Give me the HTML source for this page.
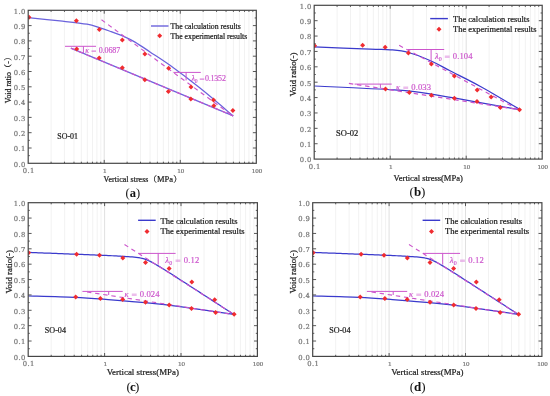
<!DOCTYPE html>
<html><head><meta charset="utf-8"><style>
html,body{margin:0;padding:0;background:#fff;width:550px;height:396px;overflow:hidden}
svg{display:block} .lb{stroke:#1c1c1c;stroke-width:0.22px} .mg{stroke:#cc55cc;stroke-width:0.18px}
</style></head><body>
<svg width="550" height="396" viewBox="0 0 550 396" font-family="'Liberation Serif', 'Noto Serif CJK SC', serif">
<rect width="550" height="396" fill="#fff"/>
<line x1="51.09" y1="10.3" x2="51.09" y2="163.3" stroke="#f1f1f1" stroke-width="0.9"/>
<line x1="64.48" y1="10.3" x2="64.48" y2="163.3" stroke="#f1f1f1" stroke-width="0.9"/>
<line x1="73.98" y1="10.3" x2="73.98" y2="163.3" stroke="#f1f1f1" stroke-width="0.9"/>
<line x1="81.35" y1="10.3" x2="81.35" y2="163.3" stroke="#f1f1f1" stroke-width="0.9"/>
<line x1="87.37" y1="10.3" x2="87.37" y2="163.3" stroke="#f1f1f1" stroke-width="0.9"/>
<line x1="92.46" y1="10.3" x2="92.46" y2="163.3" stroke="#f1f1f1" stroke-width="0.9"/>
<line x1="96.86" y1="10.3" x2="96.86" y2="163.3" stroke="#f1f1f1" stroke-width="0.9"/>
<line x1="100.75" y1="10.3" x2="100.75" y2="163.3" stroke="#f1f1f1" stroke-width="0.9"/>
<line x1="104.23" y1="10.3" x2="104.23" y2="163.3" stroke="#dcdcdc" stroke-width="0.9"/>
<line x1="127.12" y1="10.3" x2="127.12" y2="163.3" stroke="#f1f1f1" stroke-width="0.9"/>
<line x1="140.51" y1="10.3" x2="140.51" y2="163.3" stroke="#f1f1f1" stroke-width="0.9"/>
<line x1="150.01" y1="10.3" x2="150.01" y2="163.3" stroke="#f1f1f1" stroke-width="0.9"/>
<line x1="157.38" y1="10.3" x2="157.38" y2="163.3" stroke="#f1f1f1" stroke-width="0.9"/>
<line x1="163.4" y1="10.3" x2="163.4" y2="163.3" stroke="#f1f1f1" stroke-width="0.9"/>
<line x1="168.49" y1="10.3" x2="168.49" y2="163.3" stroke="#f1f1f1" stroke-width="0.9"/>
<line x1="172.9" y1="10.3" x2="172.9" y2="163.3" stroke="#f1f1f1" stroke-width="0.9"/>
<line x1="176.79" y1="10.3" x2="176.79" y2="163.3" stroke="#f1f1f1" stroke-width="0.9"/>
<line x1="180.27" y1="10.3" x2="180.27" y2="163.3" stroke="#dcdcdc" stroke-width="0.9"/>
<line x1="203.15" y1="10.3" x2="203.15" y2="163.3" stroke="#f1f1f1" stroke-width="0.9"/>
<line x1="216.54" y1="10.3" x2="216.54" y2="163.3" stroke="#f1f1f1" stroke-width="0.9"/>
<line x1="226.04" y1="10.3" x2="226.04" y2="163.3" stroke="#f1f1f1" stroke-width="0.9"/>
<line x1="233.41" y1="10.3" x2="233.41" y2="163.3" stroke="#f1f1f1" stroke-width="0.9"/>
<line x1="239.43" y1="10.3" x2="239.43" y2="163.3" stroke="#f1f1f1" stroke-width="0.9"/>
<line x1="244.52" y1="10.3" x2="244.52" y2="163.3" stroke="#f1f1f1" stroke-width="0.9"/>
<line x1="248.93" y1="10.3" x2="248.93" y2="163.3" stroke="#f1f1f1" stroke-width="0.9"/>
<line x1="252.82" y1="10.3" x2="252.82" y2="163.3" stroke="#f1f1f1" stroke-width="0.9"/>
<clipPath id="c1"><rect x="28.2" y="10.3" width="228.1" height="153"/></clipPath>
<g clip-path="url(#c1)">
<path d="M28.2 17.6C33.5 18.15 50.2 19.8 60 20.9C69.8 22 80.45 23.07 87 24.2C93.55 25.33 95.47 26.52 99.3 27.7C103.13 28.88 105.95 29.8 110 31.25C114.05 32.7 119.43 34.59 123.6 36.4C127.77 38.21 130.6 39.52 135 42.1C139.4 44.68 144.17 48.03 150 51.9C155.83 55.77 161.67 59.27 170 65.3C178.33 71.33 189.47 79.67 200 88.1C210.53 96.53 227.67 111.27 233.2 115.9" fill="none" stroke="#6a62dc" stroke-width="1.25" stroke-linejoin="round"/>
<path d="M70.9 48.2L233.2 115.9" fill="none" stroke="#6a62dc" stroke-width="1.25" stroke-linejoin="round"/>
<path d="M101.5 19.8L232 115.4" fill="none" stroke="#cc55cc" stroke-width="1.15" stroke-linejoin="round" stroke-dasharray="4.4 3.8"/>
<path d="M70.9 48.2L233.2 115.9" fill="none" stroke="#cc55cc" stroke-width="1.15" stroke-linejoin="round" stroke-dasharray="4.4 3.8"/>
<path d="M29 14.8L31.5 17.3L29 19.8L26.5 17.3Z" fill="#f02c30"/>
<path d="M76.4 18.2L78.9 20.7L76.4 23.2L73.9 20.7Z" fill="#f02c30"/>
<path d="M99.3 27L101.8 29.5L99.3 32L96.8 29.5Z" fill="#f02c30"/>
<path d="M122.3 37.6L124.8 40.1L122.3 42.6L119.8 40.1Z" fill="#f02c30"/>
<path d="M144.9 51.4L147.4 53.9L144.9 56.4L142.4 53.9Z" fill="#f02c30"/>
<path d="M168.6 65.7L171.1 68.2L168.6 70.7L166.1 68.2Z" fill="#f02c30"/>
<path d="M191 84.6L193.5 87.1L191 89.6L188.5 87.1Z" fill="#f02c30"/>
<path d="M213.5 97.5L216 100L213.5 102.5L211 100Z" fill="#f02c30"/>
<path d="M232.9 108L235.4 110.5L232.9 113L230.4 110.5Z" fill="#f02c30"/>
<path d="M76.7 46.6L79.2 49.1L76.7 51.6L74.2 49.1Z" fill="#f02c30"/>
<path d="M99.2 55.5L101.7 58L99.2 60.5L96.7 58Z" fill="#f02c30"/>
<path d="M122.3 65.3L124.8 67.8L122.3 70.3L119.8 67.8Z" fill="#f02c30"/>
<path d="M144.8 77.3L147.3 79.8L144.8 82.3L142.3 79.8Z" fill="#f02c30"/>
<path d="M168.4 89L170.9 91.5L168.4 94L165.9 91.5Z" fill="#f02c30"/>
<path d="M190.8 96.5L193.3 99L190.8 101.5L188.3 99Z" fill="#f02c30"/>
<path d="M213.8 103.3L216.3 105.8L213.8 108.3L211.3 105.8Z" fill="#f02c30"/>
</g>
<path d="M51.09 163.3v-1.6M51.09 10.3v1.6M64.48 163.3v-1.6M64.48 10.3v1.6M73.98 163.3v-1.6M73.98 10.3v1.6M81.35 163.3v-1.6M81.35 10.3v1.6M87.37 163.3v-1.6M87.37 10.3v1.6M92.46 163.3v-1.6M92.46 10.3v1.6M96.86 163.3v-1.6M96.86 10.3v1.6M100.75 163.3v-1.6M100.75 10.3v1.6M104.23 163.3v-3.4M104.23 10.3v3.4M127.12 163.3v-1.6M127.12 10.3v1.6M140.51 163.3v-1.6M140.51 10.3v1.6M150.01 163.3v-1.6M150.01 10.3v1.6M157.38 163.3v-1.6M157.38 10.3v1.6M163.4 163.3v-1.6M163.4 10.3v1.6M168.49 163.3v-1.6M168.49 10.3v1.6M172.9 163.3v-1.6M172.9 10.3v1.6M176.79 163.3v-1.6M176.79 10.3v1.6M180.27 163.3v-3.4M180.27 10.3v3.4M203.15 163.3v-1.6M203.15 10.3v1.6M216.54 163.3v-1.6M216.54 10.3v1.6M226.04 163.3v-1.6M226.04 10.3v1.6M233.41 163.3v-1.6M233.41 10.3v1.6M239.43 163.3v-1.6M239.43 10.3v1.6M244.52 163.3v-1.6M244.52 10.3v1.6M248.93 163.3v-1.6M248.93 10.3v1.6M252.82 163.3v-1.6M252.82 10.3v1.6M28.2 155.65h1.6M256.3 155.65h-1.6M28.2 148h3.4M256.3 148h-3.4M28.2 140.35h1.6M256.3 140.35h-1.6M28.2 132.7h3.4M256.3 132.7h-3.4M28.2 125.05h1.6M256.3 125.05h-1.6M28.2 117.4h3.4M256.3 117.4h-3.4M28.2 109.75h1.6M256.3 109.75h-1.6M28.2 102.1h3.4M256.3 102.1h-3.4M28.2 94.45h1.6M256.3 94.45h-1.6M28.2 86.8h3.4M256.3 86.8h-3.4M28.2 79.15h1.6M256.3 79.15h-1.6M28.2 71.5h3.4M256.3 71.5h-3.4M28.2 63.85h1.6M256.3 63.85h-1.6M28.2 56.2h3.4M256.3 56.2h-3.4M28.2 48.55h1.6M256.3 48.55h-1.6M28.2 40.9h3.4M256.3 40.9h-3.4M28.2 33.25h1.6M256.3 33.25h-1.6M28.2 25.6h3.4M256.3 25.6h-3.4M28.2 17.95h1.6M256.3 17.95h-1.6" stroke="#464646" stroke-width="0.9" fill="none"/>
<rect x="28.2" y="10.3" width="228.1" height="153" fill="none" stroke="#464646" stroke-width="1.2"/>
<text x="25.7" y="166.6" text-anchor="end" font-family="DejaVu Serif, serif" font-size="6.8" fill="#787878" stroke="#787878" stroke-width="0.22" letter-spacing="0.35">0.0</text>
<text x="25.7" y="151.3" text-anchor="end" font-family="DejaVu Serif, serif" font-size="6.8" fill="#787878" stroke="#787878" stroke-width="0.22" letter-spacing="0.35">0.1</text>
<text x="25.7" y="136" text-anchor="end" font-family="DejaVu Serif, serif" font-size="6.8" fill="#787878" stroke="#787878" stroke-width="0.22" letter-spacing="0.35">0.2</text>
<text x="25.7" y="120.7" text-anchor="end" font-family="DejaVu Serif, serif" font-size="6.8" fill="#787878" stroke="#787878" stroke-width="0.22" letter-spacing="0.35">0.3</text>
<text x="25.7" y="105.4" text-anchor="end" font-family="DejaVu Serif, serif" font-size="6.8" fill="#787878" stroke="#787878" stroke-width="0.22" letter-spacing="0.35">0.4</text>
<text x="25.7" y="90.1" text-anchor="end" font-family="DejaVu Serif, serif" font-size="6.8" fill="#787878" stroke="#787878" stroke-width="0.22" letter-spacing="0.35">0.5</text>
<text x="25.7" y="74.8" text-anchor="end" font-family="DejaVu Serif, serif" font-size="6.8" fill="#787878" stroke="#787878" stroke-width="0.22" letter-spacing="0.35">0.6</text>
<text x="25.7" y="59.5" text-anchor="end" font-family="DejaVu Serif, serif" font-size="6.8" fill="#787878" stroke="#787878" stroke-width="0.22" letter-spacing="0.35">0.7</text>
<text x="25.7" y="44.2" text-anchor="end" font-family="DejaVu Serif, serif" font-size="6.8" fill="#787878" stroke="#787878" stroke-width="0.22" letter-spacing="0.35">0.8</text>
<text x="25.7" y="28.9" text-anchor="end" font-family="DejaVu Serif, serif" font-size="6.8" fill="#787878" stroke="#787878" stroke-width="0.22" letter-spacing="0.35">0.9</text>
<text x="25.7" y="13.6" text-anchor="end" font-family="DejaVu Serif, serif" font-size="6.8" fill="#787878" stroke="#787878" stroke-width="0.22" letter-spacing="0.35">1.0</text>
<text x="28.7" y="173.3" text-anchor="middle" font-family="DejaVu Serif, serif" font-size="6.8" fill="#787878" stroke="#787878" stroke-width="0.22" letter-spacing="0.35">0.1</text>
<text x="104.83" y="172.9" text-anchor="middle" font-size="7" fill="#787878" stroke="#787878" stroke-width="0.22">1</text>
<text x="180.87" y="172.9" text-anchor="middle" font-size="7" fill="#787878" stroke="#787878" stroke-width="0.22">10</text>
<text x="256.9" y="172.9" text-anchor="middle" font-size="7" fill="#787878" stroke="#787878" stroke-width="0.22">100</text>
<path d="M65 46.3H96M83.4 46.3V53.4" stroke="#cc55cc" stroke-width="1" fill="none"/>
<text transform="translate(85.2,52.8) scale(1,0.9)" font-size="8" fill="#cc55cc" class="mg" letter-spacing="-0.1"><tspan font-style="italic">κ</tspan> <tspan font-family="DejaVu Serif, serif" font-size="7.20" stroke="none" fill-opacity="0.75">=</tspan> 0.0687</text>
<path d="M173.4 72.4H200.8M186.1 72.4V80.4" stroke="#cc55cc" stroke-width="1" fill="none"/>
<text transform="translate(191.4,81) scale(1,0.9)" font-size="8" fill="#cc55cc" class="mg" letter-spacing="-0.2" xml:space="preserve"><tspan font-style="italic">λ</tspan><tspan font-size="5.6" dy="1.8">0</tspan><tspan dy="-1.8"> </tspan><tspan font-family="DejaVu Serif, serif" font-size="7.20" stroke="none" fill-opacity="0.75">=</tspan>0.1352</text>
<line x1="151" y1="26" x2="168.5" y2="26" stroke="#6a62dc" stroke-width="1.4"/>
<path d="M159.7 33.3L162.2 35.8L159.7 38.3L157.2 35.8Z" fill="#f02c30"/>
<text x="170.6" y="28.9" font-size="7.75" fill="#1c1c1c" class="lb">The calculation results</text>
<text x="170.6" y="38.5" font-size="7.75" fill="#1c1c1c" class="lb">The experimental results</text>
<text x="57.3" y="138.8" font-size="7.9" fill="#1c1c1c" class="lb">SO-01</text>
<text x="103.6" y="181.9" font-size="7.9" fill="#1c1c1c" class="lb" letter-spacing="0.05">Vertical stress<tspan font-size="8.5">（MPa）</tspan></text>
<text transform="translate(10.8,103.3) rotate(-90)" font-size="7.9" fill="#1c1c1c" class="lb">Void ratio<tspan letter-spacing="0.4">（-）</tspan></text>
<text x="132.8" y="196.9" text-anchor="middle" font-size="12.5" fill="#111">(<tspan font-weight="bold">a</tspan>)</text>
<line x1="337.08" y1="5.3" x2="337.08" y2="159.1" stroke="#f1f1f1" stroke-width="0.9"/>
<line x1="350.46" y1="5.3" x2="350.46" y2="159.1" stroke="#f1f1f1" stroke-width="0.9"/>
<line x1="359.96" y1="5.3" x2="359.96" y2="159.1" stroke="#f1f1f1" stroke-width="0.9"/>
<line x1="367.32" y1="5.3" x2="367.32" y2="159.1" stroke="#f1f1f1" stroke-width="0.9"/>
<line x1="373.34" y1="5.3" x2="373.34" y2="159.1" stroke="#f1f1f1" stroke-width="0.9"/>
<line x1="378.43" y1="5.3" x2="378.43" y2="159.1" stroke="#f1f1f1" stroke-width="0.9"/>
<line x1="382.83" y1="5.3" x2="382.83" y2="159.1" stroke="#f1f1f1" stroke-width="0.9"/>
<line x1="386.72" y1="5.3" x2="386.72" y2="159.1" stroke="#f1f1f1" stroke-width="0.9"/>
<line x1="390.2" y1="5.3" x2="390.2" y2="159.1" stroke="#dcdcdc" stroke-width="0.9"/>
<line x1="413.08" y1="5.3" x2="413.08" y2="159.1" stroke="#f1f1f1" stroke-width="0.9"/>
<line x1="426.46" y1="5.3" x2="426.46" y2="159.1" stroke="#f1f1f1" stroke-width="0.9"/>
<line x1="435.96" y1="5.3" x2="435.96" y2="159.1" stroke="#f1f1f1" stroke-width="0.9"/>
<line x1="443.32" y1="5.3" x2="443.32" y2="159.1" stroke="#f1f1f1" stroke-width="0.9"/>
<line x1="449.34" y1="5.3" x2="449.34" y2="159.1" stroke="#f1f1f1" stroke-width="0.9"/>
<line x1="454.43" y1="5.3" x2="454.43" y2="159.1" stroke="#f1f1f1" stroke-width="0.9"/>
<line x1="458.83" y1="5.3" x2="458.83" y2="159.1" stroke="#f1f1f1" stroke-width="0.9"/>
<line x1="462.72" y1="5.3" x2="462.72" y2="159.1" stroke="#f1f1f1" stroke-width="0.9"/>
<line x1="466.2" y1="5.3" x2="466.2" y2="159.1" stroke="#dcdcdc" stroke-width="0.9"/>
<line x1="489.08" y1="5.3" x2="489.08" y2="159.1" stroke="#f1f1f1" stroke-width="0.9"/>
<line x1="502.46" y1="5.3" x2="502.46" y2="159.1" stroke="#f1f1f1" stroke-width="0.9"/>
<line x1="511.96" y1="5.3" x2="511.96" y2="159.1" stroke="#f1f1f1" stroke-width="0.9"/>
<line x1="519.32" y1="5.3" x2="519.32" y2="159.1" stroke="#f1f1f1" stroke-width="0.9"/>
<line x1="525.34" y1="5.3" x2="525.34" y2="159.1" stroke="#f1f1f1" stroke-width="0.9"/>
<line x1="530.43" y1="5.3" x2="530.43" y2="159.1" stroke="#f1f1f1" stroke-width="0.9"/>
<line x1="534.83" y1="5.3" x2="534.83" y2="159.1" stroke="#f1f1f1" stroke-width="0.9"/>
<line x1="538.72" y1="5.3" x2="538.72" y2="159.1" stroke="#f1f1f1" stroke-width="0.9"/>
<clipPath id="c2"><rect x="314.2" y="5.3" width="228" height="153.8"/></clipPath>
<g clip-path="url(#c2)">
<path d="M314.2 46.8C323.5 47.18 357.3 48.6 370 49.1C382.7 49.6 383.98 49.23 390.4 49.8C396.82 50.37 401.72 50.63 408.5 52.5C415.28 54.37 424.18 57.95 431.1 61C438.02 64.05 441.85 66.6 450 70.8C458.15 75 468.37 79.77 480 86.2C491.63 92.63 513.17 105.53 519.8 109.4" fill="none" stroke="#3a3acc" stroke-width="1.25" stroke-linejoin="round"/>
<path d="M314.2 86C327.5 86.65 374.7 88.6 394 89.9C413.3 91.2 409.08 90.5 430 93.8C450.92 97.1 504.58 107.05 519.5 109.7" fill="none" stroke="#3a3acc" stroke-width="1.25" stroke-linejoin="round"/>
<path d="M399.1 45.3L519.8 110.5" fill="none" stroke="#cc55cc" stroke-width="1.15" stroke-linejoin="round" stroke-dasharray="4.4 3.8"/>
<path d="M348.9 83.4L519.5 109.7" fill="none" stroke="#cc55cc" stroke-width="1.15" stroke-linejoin="round" stroke-dasharray="4.4 3.8"/>
<path d="M314.6 43.2L317.1 45.7L314.6 48.2L312.1 45.7Z" fill="#f02c30"/>
<path d="M362.6 42.8L365.1 45.3L362.6 47.8L360.1 45.3Z" fill="#f02c30"/>
<path d="M385.2 44.7L387.7 47.2L385.2 49.7L382.7 47.2Z" fill="#f02c30"/>
<path d="M408.4 50.4L410.9 52.9L408.4 55.4L405.9 52.9Z" fill="#f02c30"/>
<path d="M431.4 61.5L433.9 64L431.4 66.5L428.9 64Z" fill="#f02c30"/>
<path d="M454.4 73.6L456.9 76.1L454.4 78.6L451.9 76.1Z" fill="#f02c30"/>
<path d="M477.2 87.5L479.7 90L477.2 92.5L474.7 90Z" fill="#f02c30"/>
<path d="M491.1 94.5L493.6 97L491.1 99.5L488.6 97Z" fill="#f02c30"/>
<path d="M519.5 107.2L522 109.7L519.5 112.2L517 109.7Z" fill="#f02c30"/>
<path d="M385.5 86.6L388 89.1L385.5 91.6L383 89.1Z" fill="#f02c30"/>
<path d="M409.3 90.1L411.8 92.6L409.3 95.1L406.8 92.6Z" fill="#f02c30"/>
<path d="M431.4 92.8L433.9 95.3L431.4 97.8L428.9 95.3Z" fill="#f02c30"/>
<path d="M454.4 95.7L456.9 98.2L454.4 100.7L451.9 98.2Z" fill="#f02c30"/>
<path d="M477 99L479.5 101.5L477 104L474.5 101.5Z" fill="#f02c30"/>
<path d="M500.3 105.1L502.8 107.6L500.3 110.1L497.8 107.6Z" fill="#f02c30"/>
</g>
<path d="M337.08 159.1v-1.6M337.08 5.3v1.6M350.46 159.1v-1.6M350.46 5.3v1.6M359.96 159.1v-1.6M359.96 5.3v1.6M367.32 159.1v-1.6M367.32 5.3v1.6M373.34 159.1v-1.6M373.34 5.3v1.6M378.43 159.1v-1.6M378.43 5.3v1.6M382.83 159.1v-1.6M382.83 5.3v1.6M386.72 159.1v-1.6M386.72 5.3v1.6M390.2 159.1v-3.4M390.2 5.3v3.4M413.08 159.1v-1.6M413.08 5.3v1.6M426.46 159.1v-1.6M426.46 5.3v1.6M435.96 159.1v-1.6M435.96 5.3v1.6M443.32 159.1v-1.6M443.32 5.3v1.6M449.34 159.1v-1.6M449.34 5.3v1.6M454.43 159.1v-1.6M454.43 5.3v1.6M458.83 159.1v-1.6M458.83 5.3v1.6M462.72 159.1v-1.6M462.72 5.3v1.6M466.2 159.1v-3.4M466.2 5.3v3.4M489.08 159.1v-1.6M489.08 5.3v1.6M502.46 159.1v-1.6M502.46 5.3v1.6M511.96 159.1v-1.6M511.96 5.3v1.6M519.32 159.1v-1.6M519.32 5.3v1.6M525.34 159.1v-1.6M525.34 5.3v1.6M530.43 159.1v-1.6M530.43 5.3v1.6M534.83 159.1v-1.6M534.83 5.3v1.6M538.72 159.1v-1.6M538.72 5.3v1.6M314.2 151.41h1.6M542.2 151.41h-1.6M314.2 143.72h3.4M542.2 143.72h-3.4M314.2 136.03h1.6M542.2 136.03h-1.6M314.2 128.34h3.4M542.2 128.34h-3.4M314.2 120.65h1.6M542.2 120.65h-1.6M314.2 112.96h3.4M542.2 112.96h-3.4M314.2 105.27h1.6M542.2 105.27h-1.6M314.2 97.58h3.4M542.2 97.58h-3.4M314.2 89.89h1.6M542.2 89.89h-1.6M314.2 82.2h3.4M542.2 82.2h-3.4M314.2 74.51h1.6M542.2 74.51h-1.6M314.2 66.82h3.4M542.2 66.82h-3.4M314.2 59.13h1.6M542.2 59.13h-1.6M314.2 51.44h3.4M542.2 51.44h-3.4M314.2 43.75h1.6M542.2 43.75h-1.6M314.2 36.06h3.4M542.2 36.06h-3.4M314.2 28.37h1.6M542.2 28.37h-1.6M314.2 20.68h3.4M542.2 20.68h-3.4M314.2 12.99h1.6M542.2 12.99h-1.6" stroke="#464646" stroke-width="0.9" fill="none"/>
<rect x="314.2" y="5.3" width="228" height="153.8" fill="none" stroke="#464646" stroke-width="1.2"/>
<text x="311.7" y="162.4" text-anchor="end" font-family="DejaVu Serif, serif" font-size="6.8" fill="#787878" stroke="#787878" stroke-width="0.22" letter-spacing="0.35">0.0</text>
<text x="311.7" y="147.02" text-anchor="end" font-family="DejaVu Serif, serif" font-size="6.8" fill="#787878" stroke="#787878" stroke-width="0.22" letter-spacing="0.35">0.1</text>
<text x="311.7" y="131.64" text-anchor="end" font-family="DejaVu Serif, serif" font-size="6.8" fill="#787878" stroke="#787878" stroke-width="0.22" letter-spacing="0.35">0.2</text>
<text x="311.7" y="116.26" text-anchor="end" font-family="DejaVu Serif, serif" font-size="6.8" fill="#787878" stroke="#787878" stroke-width="0.22" letter-spacing="0.35">0.3</text>
<text x="311.7" y="100.88" text-anchor="end" font-family="DejaVu Serif, serif" font-size="6.8" fill="#787878" stroke="#787878" stroke-width="0.22" letter-spacing="0.35">0.4</text>
<text x="311.7" y="85.5" text-anchor="end" font-family="DejaVu Serif, serif" font-size="6.8" fill="#787878" stroke="#787878" stroke-width="0.22" letter-spacing="0.35">0.5</text>
<text x="311.7" y="70.12" text-anchor="end" font-family="DejaVu Serif, serif" font-size="6.8" fill="#787878" stroke="#787878" stroke-width="0.22" letter-spacing="0.35">0.6</text>
<text x="311.7" y="54.74" text-anchor="end" font-family="DejaVu Serif, serif" font-size="6.8" fill="#787878" stroke="#787878" stroke-width="0.22" letter-spacing="0.35">0.7</text>
<text x="311.7" y="39.36" text-anchor="end" font-family="DejaVu Serif, serif" font-size="6.8" fill="#787878" stroke="#787878" stroke-width="0.22" letter-spacing="0.35">0.8</text>
<text x="311.7" y="23.98" text-anchor="end" font-family="DejaVu Serif, serif" font-size="6.8" fill="#787878" stroke="#787878" stroke-width="0.22" letter-spacing="0.35">0.9</text>
<text x="311.7" y="8.6" text-anchor="end" font-family="DejaVu Serif, serif" font-size="6.8" fill="#787878" stroke="#787878" stroke-width="0.22" letter-spacing="0.35">1.0</text>
<text x="314.7" y="169.1" text-anchor="middle" font-family="DejaVu Serif, serif" font-size="6.8" fill="#787878" stroke="#787878" stroke-width="0.22" letter-spacing="0.35">0.1</text>
<text x="390.8" y="168.7" text-anchor="middle" font-size="7" fill="#787878" stroke="#787878" stroke-width="0.22">1</text>
<text x="466.8" y="168.7" text-anchor="middle" font-size="7" fill="#787878" stroke="#787878" stroke-width="0.22">10</text>
<text x="542.8" y="168.7" text-anchor="middle" font-size="7" fill="#787878" stroke="#787878" stroke-width="0.22">100</text>
<path d="M354.6 84.1H391.7M380.4 84.1V88.3" stroke="#cc55cc" stroke-width="1" fill="none"/>
<text transform="translate(396,89.7) scale(1,0.9)" font-size="8.6" fill="#cc55cc" class="mg" letter-spacing="0.1"><tspan font-style="italic">κ</tspan> <tspan font-family="DejaVu Serif, serif" font-size="7.74" stroke="none" fill-opacity="0.75">=</tspan> 0.033</text>
<path d="M407.5 49.5H444.2M431.1 49.5V61" stroke="#cc55cc" stroke-width="1" fill="none"/>
<text transform="translate(434.9,59.3) scale(1,0.9)" font-size="8.6" fill="#cc55cc" class="mg" letter-spacing="0.08" xml:space="preserve"><tspan font-style="italic">λ</tspan><tspan font-size="6.0" dy="1.8">0</tspan><tspan dy="-1.8"> </tspan><tspan font-family="DejaVu Serif, serif" font-size="7.74" stroke="none" fill-opacity="0.75">=</tspan> 0.104</text>
<line x1="430.2" y1="18.6" x2="447.9" y2="18.6" stroke="#3a3acc" stroke-width="1.4"/>
<path d="M439 26.8L441.5 29.3L439 31.8L436.5 29.3Z" fill="#f02c30"/>
<text x="453.1" y="21.6" font-size="8.45" fill="#1c1c1c" class="lb">The calculation results</text>
<text x="453.1" y="31.8" font-size="8.45" fill="#1c1c1c" class="lb">The experimental results</text>
<text x="336.1" y="135.9" font-size="8.5" fill="#1c1c1c" class="lb">SO-02</text>
<text x="393.6" y="180.9" font-size="8.5" fill="#1c1c1c" class="lb">Vertical stress(MPa)</text>
<text transform="translate(295.6,96.5) rotate(-90)" font-size="8.9" fill="#1c1c1c" class="lb">Void ratio(-)</text>
<text x="417.5" y="196.4" text-anchor="middle" font-size="13" fill="#111">(<tspan font-weight="bold">b</tspan>)</text>
<line x1="51.2" y1="202.7" x2="51.2" y2="356.4" stroke="#f1f1f1" stroke-width="0.9"/>
<line x1="64.65" y1="202.7" x2="64.65" y2="356.4" stroke="#f1f1f1" stroke-width="0.9"/>
<line x1="74.2" y1="202.7" x2="74.2" y2="356.4" stroke="#f1f1f1" stroke-width="0.9"/>
<line x1="81.6" y1="202.7" x2="81.6" y2="356.4" stroke="#f1f1f1" stroke-width="0.9"/>
<line x1="87.65" y1="202.7" x2="87.65" y2="356.4" stroke="#f1f1f1" stroke-width="0.9"/>
<line x1="92.77" y1="202.7" x2="92.77" y2="356.4" stroke="#f1f1f1" stroke-width="0.9"/>
<line x1="97.2" y1="202.7" x2="97.2" y2="356.4" stroke="#f1f1f1" stroke-width="0.9"/>
<line x1="101.1" y1="202.7" x2="101.1" y2="356.4" stroke="#f1f1f1" stroke-width="0.9"/>
<line x1="104.6" y1="202.7" x2="104.6" y2="356.4" stroke="#dcdcdc" stroke-width="0.9"/>
<line x1="127.6" y1="202.7" x2="127.6" y2="356.4" stroke="#f1f1f1" stroke-width="0.9"/>
<line x1="141.05" y1="202.7" x2="141.05" y2="356.4" stroke="#f1f1f1" stroke-width="0.9"/>
<line x1="150.6" y1="202.7" x2="150.6" y2="356.4" stroke="#f1f1f1" stroke-width="0.9"/>
<line x1="158" y1="202.7" x2="158" y2="356.4" stroke="#f1f1f1" stroke-width="0.9"/>
<line x1="164.05" y1="202.7" x2="164.05" y2="356.4" stroke="#f1f1f1" stroke-width="0.9"/>
<line x1="169.17" y1="202.7" x2="169.17" y2="356.4" stroke="#f1f1f1" stroke-width="0.9"/>
<line x1="173.6" y1="202.7" x2="173.6" y2="356.4" stroke="#f1f1f1" stroke-width="0.9"/>
<line x1="177.5" y1="202.7" x2="177.5" y2="356.4" stroke="#f1f1f1" stroke-width="0.9"/>
<line x1="181" y1="202.7" x2="181" y2="356.4" stroke="#dcdcdc" stroke-width="0.9"/>
<line x1="204" y1="202.7" x2="204" y2="356.4" stroke="#f1f1f1" stroke-width="0.9"/>
<line x1="217.45" y1="202.7" x2="217.45" y2="356.4" stroke="#f1f1f1" stroke-width="0.9"/>
<line x1="227" y1="202.7" x2="227" y2="356.4" stroke="#f1f1f1" stroke-width="0.9"/>
<line x1="234.4" y1="202.7" x2="234.4" y2="356.4" stroke="#f1f1f1" stroke-width="0.9"/>
<line x1="240.45" y1="202.7" x2="240.45" y2="356.4" stroke="#f1f1f1" stroke-width="0.9"/>
<line x1="245.57" y1="202.7" x2="245.57" y2="356.4" stroke="#f1f1f1" stroke-width="0.9"/>
<line x1="250" y1="202.7" x2="250" y2="356.4" stroke="#f1f1f1" stroke-width="0.9"/>
<line x1="253.9" y1="202.7" x2="253.9" y2="356.4" stroke="#f1f1f1" stroke-width="0.9"/>
<clipPath id="c3"><rect x="28.2" y="202.7" width="229.2" height="153.7"/></clipPath>
<g clip-path="url(#c3)">
<path d="M28.2 252.4L30.2 252.48L32.2 252.55L34.2 252.63L36.2 252.7L38.2 252.78L40.2 252.86L42.2 252.93L44.2 253.01L46.2 253.08L48.2 253.16L50.2 253.24L52.2 253.31L54.2 253.39L56.2 253.47L58.2 253.54L60.2 253.62L62.2 253.7L64.2 253.77L66.2 253.85L68.2 253.93L70.2 254.01L72.2 254.09L74.2 254.16L76.2 254.24L78.2 254.32L80.2 254.4L82.2 254.48L84.2 254.56L86.2 254.64L88.2 254.72L90.2 254.8L92.2 254.88L94.2 254.97L96.2 255.05L98.2 255.13L100.2 255.22L102.2 255.3L104.2 255.39L106.2 255.48L108.2 255.57L110.2 255.66L112.2 255.75L114.2 255.85L116.2 255.95L118.2 256.05L120.2 256.15L122.2 256.26L124.2 256.38L126.2 256.51L128.2 256.64L130.2 256.79L132.2 256.96L134.2 257.15L136.2 257.38L138.2 257.65L140.2 257.99L142.2 258.42L144.2 258.96L146.2 259.64L148.2 260.46L150.2 261.4L152.2 262.43L154.2 263.53L156.2 264.68L158.2 265.86L160.2 267.07L162.2 268.29L164.2 269.53L166.2 270.79L168.2 272.04L170.2 273.31L172.2 274.58L174.2 275.86L176.2 277.14L178.2 278.42L180.2 279.7L182.2 280.99L184.2 282.27L186.2 283.56L188.2 284.85L190.2 286.15L192.2 287.44L194.2 288.73L196.2 290.03L198.2 291.32L200.2 292.62L202.2 293.91L204.2 295.21L206.2 296.51L208.2 297.8L210.2 299.1L212.2 300.4L214.2 301.7L216.2 303L218.2 304.3L220.2 305.6L222.2 306.9L224.2 308.2L226.2 309.5L228.2 310.8L230.2 312.1L232.2 313.4L233.8 314.3" fill="none" stroke="#3a3acc" stroke-width="1.25" stroke-linejoin="round"/>
<path d="M28.2 296C35.92 296.23 61.2 296.8 74.5 297.4C87.8 298 95.42 298.65 108 299.6C120.58 300.55 138 301.93 150 303.1C162 304.27 166.03 304.73 180 306.6C193.97 308.47 224.83 313.02 233.8 314.3" fill="none" stroke="#3a3acc" stroke-width="1.25" stroke-linejoin="round"/>
<path d="M124.5 244.5L233.8 314.3" fill="none" stroke="#cc55cc" stroke-width="1.15" stroke-linejoin="round" stroke-dasharray="4.4 3.8"/>
<path d="M87 292L233.8 314.6" fill="none" stroke="#cc55cc" stroke-width="1.15" stroke-linejoin="round" stroke-dasharray="4.4 3.8"/>
<path d="M28.6 250.2L31.1 252.7L28.6 255.2L26.1 252.7Z" fill="#f02c30"/>
<path d="M76.6 251.7L79.1 254.2L76.6 256.7L74.1 254.2Z" fill="#f02c30"/>
<path d="M99.5 252.8L102 255.3L99.5 257.8L97 255.3Z" fill="#f02c30"/>
<path d="M122.8 255.5L125.3 258L122.8 260.5L120.3 258Z" fill="#f02c30"/>
<path d="M145.5 260.1L148 262.6L145.5 265.1L143 262.6Z" fill="#f02c30"/>
<path d="M169.1 266.1L171.6 268.6L169.1 271.1L166.6 268.6Z" fill="#f02c30"/>
<path d="M191.8 279.4L194.3 281.9L191.8 284.4L189.3 281.9Z" fill="#f02c30"/>
<path d="M214.7 297.2L217.2 299.7L214.7 302.2L212.2 299.7Z" fill="#f02c30"/>
<path d="M234.1 311.8L236.6 314.3L234.1 316.8L231.6 314.3Z" fill="#f02c30"/>
<path d="M75.7 294.5L78.2 297L75.7 299.5L73.2 297Z" fill="#f02c30"/>
<path d="M100.4 295.9L102.9 298.4L100.4 300.9L97.9 298.4Z" fill="#f02c30"/>
<path d="M122.7 297.1L125.2 299.6L122.7 302.1L120.2 299.6Z" fill="#f02c30"/>
<path d="M145.5 299.7L148 302.2L145.5 304.7L143 302.2Z" fill="#f02c30"/>
<path d="M169.2 302.5L171.7 305L169.2 307.5L166.7 305Z" fill="#f02c30"/>
<path d="M191.5 306L194 308.5L191.5 311L189 308.5Z" fill="#f02c30"/>
<path d="M215.6 310.1L218.1 312.6L215.6 315.1L213.1 312.6Z" fill="#f02c30"/>
</g>
<path d="M51.2 356.4v-1.6M51.2 202.7v1.6M64.65 356.4v-1.6M64.65 202.7v1.6M74.2 356.4v-1.6M74.2 202.7v1.6M81.6 356.4v-1.6M81.6 202.7v1.6M87.65 356.4v-1.6M87.65 202.7v1.6M92.77 356.4v-1.6M92.77 202.7v1.6M97.2 356.4v-1.6M97.2 202.7v1.6M101.1 356.4v-1.6M101.1 202.7v1.6M104.6 356.4v-3.4M104.6 202.7v3.4M127.6 356.4v-1.6M127.6 202.7v1.6M141.05 356.4v-1.6M141.05 202.7v1.6M150.6 356.4v-1.6M150.6 202.7v1.6M158 356.4v-1.6M158 202.7v1.6M164.05 356.4v-1.6M164.05 202.7v1.6M169.17 356.4v-1.6M169.17 202.7v1.6M173.6 356.4v-1.6M173.6 202.7v1.6M177.5 356.4v-1.6M177.5 202.7v1.6M181 356.4v-3.4M181 202.7v3.4M204 356.4v-1.6M204 202.7v1.6M217.45 356.4v-1.6M217.45 202.7v1.6M227 356.4v-1.6M227 202.7v1.6M234.4 356.4v-1.6M234.4 202.7v1.6M240.45 356.4v-1.6M240.45 202.7v1.6M245.57 356.4v-1.6M245.57 202.7v1.6M250 356.4v-1.6M250 202.7v1.6M253.9 356.4v-1.6M253.9 202.7v1.6M28.2 348.71h1.6M257.4 348.71h-1.6M28.2 341.03h3.4M257.4 341.03h-3.4M28.2 333.34h1.6M257.4 333.34h-1.6M28.2 325.66h3.4M257.4 325.66h-3.4M28.2 317.97h1.6M257.4 317.97h-1.6M28.2 310.29h3.4M257.4 310.29h-3.4M28.2 302.6h1.6M257.4 302.6h-1.6M28.2 294.92h3.4M257.4 294.92h-3.4M28.2 287.24h1.6M257.4 287.24h-1.6M28.2 279.55h3.4M257.4 279.55h-3.4M28.2 271.87h1.6M257.4 271.87h-1.6M28.2 264.18h3.4M257.4 264.18h-3.4M28.2 256.5h1.6M257.4 256.5h-1.6M28.2 248.81h3.4M257.4 248.81h-3.4M28.2 241.12h1.6M257.4 241.12h-1.6M28.2 233.44h3.4M257.4 233.44h-3.4M28.2 225.75h1.6M257.4 225.75h-1.6M28.2 218.07h3.4M257.4 218.07h-3.4M28.2 210.38h1.6M257.4 210.38h-1.6" stroke="#464646" stroke-width="0.9" fill="none"/>
<rect x="28.2" y="202.7" width="229.2" height="153.7" fill="none" stroke="#464646" stroke-width="1.2"/>
<text x="25.7" y="359.7" text-anchor="end" font-family="DejaVu Serif, serif" font-size="6.8" fill="#787878" stroke="#787878" stroke-width="0.22" letter-spacing="0.35">0.0</text>
<text x="25.7" y="344.33" text-anchor="end" font-family="DejaVu Serif, serif" font-size="6.8" fill="#787878" stroke="#787878" stroke-width="0.22" letter-spacing="0.35">0.1</text>
<text x="25.7" y="328.96" text-anchor="end" font-family="DejaVu Serif, serif" font-size="6.8" fill="#787878" stroke="#787878" stroke-width="0.22" letter-spacing="0.35">0.2</text>
<text x="25.7" y="313.59" text-anchor="end" font-family="DejaVu Serif, serif" font-size="6.8" fill="#787878" stroke="#787878" stroke-width="0.22" letter-spacing="0.35">0.3</text>
<text x="25.7" y="298.22" text-anchor="end" font-family="DejaVu Serif, serif" font-size="6.8" fill="#787878" stroke="#787878" stroke-width="0.22" letter-spacing="0.35">0.4</text>
<text x="25.7" y="282.85" text-anchor="end" font-family="DejaVu Serif, serif" font-size="6.8" fill="#787878" stroke="#787878" stroke-width="0.22" letter-spacing="0.35">0.5</text>
<text x="25.7" y="267.48" text-anchor="end" font-family="DejaVu Serif, serif" font-size="6.8" fill="#787878" stroke="#787878" stroke-width="0.22" letter-spacing="0.35">0.6</text>
<text x="25.7" y="252.11" text-anchor="end" font-family="DejaVu Serif, serif" font-size="6.8" fill="#787878" stroke="#787878" stroke-width="0.22" letter-spacing="0.35">0.7</text>
<text x="25.7" y="236.74" text-anchor="end" font-family="DejaVu Serif, serif" font-size="6.8" fill="#787878" stroke="#787878" stroke-width="0.22" letter-spacing="0.35">0.8</text>
<text x="25.7" y="221.37" text-anchor="end" font-family="DejaVu Serif, serif" font-size="6.8" fill="#787878" stroke="#787878" stroke-width="0.22" letter-spacing="0.35">0.9</text>
<text x="25.7" y="206" text-anchor="end" font-family="DejaVu Serif, serif" font-size="6.8" fill="#787878" stroke="#787878" stroke-width="0.22" letter-spacing="0.35">1.0</text>
<text x="28.7" y="366.4" text-anchor="middle" font-family="DejaVu Serif, serif" font-size="6.8" fill="#787878" stroke="#787878" stroke-width="0.22" letter-spacing="0.35">0.1</text>
<text x="105.2" y="366" text-anchor="middle" font-size="7" fill="#787878" stroke="#787878" stroke-width="0.22">1</text>
<text x="181.6" y="366" text-anchor="middle" font-size="7" fill="#787878" stroke="#787878" stroke-width="0.22">10</text>
<text x="258" y="366" text-anchor="middle" font-size="7" fill="#787878" stroke="#787878" stroke-width="0.22">100</text>
<path d="M82.4 291.4H122.7M108.7 291.4V295" stroke="#cc55cc" stroke-width="1" fill="none"/>
<text transform="translate(124.5,296.9) scale(1,0.9)" font-size="8.6" fill="#cc55cc" class="mg" letter-spacing="0.1"><tspan font-style="italic">κ</tspan> <tspan font-family="DejaVu Serif, serif" font-size="7.74" stroke="none" fill-opacity="0.75">=</tspan> 0.024</text>
<path d="M138.4 253.4H175.6M158.2 253.4V264.6" stroke="#cc55cc" stroke-width="1" fill="none"/>
<text transform="translate(165.3,263.1) scale(1,0.9)" font-size="8.6" fill="#cc55cc" class="mg" letter-spacing="0.18" xml:space="preserve"><tspan font-style="italic">λ</tspan><tspan font-size="6.0" dy="1.8">0</tspan><tspan dy="-1.8"> </tspan><tspan font-family="DejaVu Serif, serif" font-size="7.74" stroke="none" fill-opacity="0.75">=</tspan> 0.12</text>
<line x1="138.1" y1="220.3" x2="155.7" y2="220.3" stroke="#3a3acc" stroke-width="1.4"/>
<path d="M147 229.1L149.5 231.6L147 234.1L144.5 231.6Z" fill="#f02c30"/>
<text x="160.6" y="223.5" font-size="8.5" fill="#1c1c1c" class="lb">The calculation results</text>
<text x="160.6" y="234.4" font-size="8.5" fill="#1c1c1c" class="lb">The experimental results</text>
<text x="44.8" y="332.6" font-size="8.1" fill="#1c1c1c" class="lb">SO-04</text>
<text x="106.7" y="375" font-size="8.9" fill="#1c1c1c" class="lb">Vertical stress(MPa)</text>
<text transform="translate(11.7,293.6) rotate(-90)" font-size="8.8" fill="#1c1c1c" class="lb">Void ratio(-)</text>
<text x="132.4" y="391.3" text-anchor="middle" font-size="13" fill="#111" letter-spacing="-0.8">(<tspan font-weight="bold">c</tspan>)</text>
<line x1="335.7" y1="202.7" x2="335.7" y2="356.4" stroke="#f1f1f1" stroke-width="0.9"/>
<line x1="349.15" y1="202.7" x2="349.15" y2="356.4" stroke="#f1f1f1" stroke-width="0.9"/>
<line x1="358.7" y1="202.7" x2="358.7" y2="356.4" stroke="#f1f1f1" stroke-width="0.9"/>
<line x1="366.1" y1="202.7" x2="366.1" y2="356.4" stroke="#f1f1f1" stroke-width="0.9"/>
<line x1="372.15" y1="202.7" x2="372.15" y2="356.4" stroke="#f1f1f1" stroke-width="0.9"/>
<line x1="377.27" y1="202.7" x2="377.27" y2="356.4" stroke="#f1f1f1" stroke-width="0.9"/>
<line x1="381.7" y1="202.7" x2="381.7" y2="356.4" stroke="#f1f1f1" stroke-width="0.9"/>
<line x1="385.6" y1="202.7" x2="385.6" y2="356.4" stroke="#f1f1f1" stroke-width="0.9"/>
<line x1="389.1" y1="202.7" x2="389.1" y2="356.4" stroke="#dcdcdc" stroke-width="0.9"/>
<line x1="412.1" y1="202.7" x2="412.1" y2="356.4" stroke="#f1f1f1" stroke-width="0.9"/>
<line x1="425.55" y1="202.7" x2="425.55" y2="356.4" stroke="#f1f1f1" stroke-width="0.9"/>
<line x1="435.1" y1="202.7" x2="435.1" y2="356.4" stroke="#f1f1f1" stroke-width="0.9"/>
<line x1="442.5" y1="202.7" x2="442.5" y2="356.4" stroke="#f1f1f1" stroke-width="0.9"/>
<line x1="448.55" y1="202.7" x2="448.55" y2="356.4" stroke="#f1f1f1" stroke-width="0.9"/>
<line x1="453.67" y1="202.7" x2="453.67" y2="356.4" stroke="#f1f1f1" stroke-width="0.9"/>
<line x1="458.1" y1="202.7" x2="458.1" y2="356.4" stroke="#f1f1f1" stroke-width="0.9"/>
<line x1="462" y1="202.7" x2="462" y2="356.4" stroke="#f1f1f1" stroke-width="0.9"/>
<line x1="465.5" y1="202.7" x2="465.5" y2="356.4" stroke="#dcdcdc" stroke-width="0.9"/>
<line x1="488.5" y1="202.7" x2="488.5" y2="356.4" stroke="#f1f1f1" stroke-width="0.9"/>
<line x1="501.95" y1="202.7" x2="501.95" y2="356.4" stroke="#f1f1f1" stroke-width="0.9"/>
<line x1="511.5" y1="202.7" x2="511.5" y2="356.4" stroke="#f1f1f1" stroke-width="0.9"/>
<line x1="518.9" y1="202.7" x2="518.9" y2="356.4" stroke="#f1f1f1" stroke-width="0.9"/>
<line x1="524.95" y1="202.7" x2="524.95" y2="356.4" stroke="#f1f1f1" stroke-width="0.9"/>
<line x1="530.07" y1="202.7" x2="530.07" y2="356.4" stroke="#f1f1f1" stroke-width="0.9"/>
<line x1="534.5" y1="202.7" x2="534.5" y2="356.4" stroke="#f1f1f1" stroke-width="0.9"/>
<line x1="538.4" y1="202.7" x2="538.4" y2="356.4" stroke="#f1f1f1" stroke-width="0.9"/>
<clipPath id="c4"><rect x="312.7" y="202.7" width="229.2" height="153.7"/></clipPath>
<g clip-path="url(#c4)">
<path d="M312.7 252.4L314.7 252.48L316.7 252.55L318.7 252.63L320.7 252.7L322.7 252.78L324.7 252.86L326.7 252.93L328.7 253.01L330.7 253.08L332.7 253.16L334.7 253.24L336.7 253.31L338.7 253.39L340.7 253.47L342.7 253.54L344.7 253.62L346.7 253.7L348.7 253.77L350.7 253.85L352.7 253.93L354.7 254.01L356.7 254.09L358.7 254.16L360.7 254.24L362.7 254.32L364.7 254.4L366.7 254.48L368.7 254.56L370.7 254.64L372.7 254.72L374.7 254.8L376.7 254.88L378.7 254.97L380.7 255.05L382.7 255.13L384.7 255.22L386.7 255.3L388.7 255.39L390.7 255.48L392.7 255.57L394.7 255.66L396.7 255.75L398.7 255.85L400.7 255.95L402.7 256.05L404.7 256.15L406.7 256.26L408.7 256.38L410.7 256.51L412.7 256.64L414.7 256.79L416.7 256.96L418.7 257.15L420.7 257.38L422.7 257.65L424.7 257.99L426.7 258.42L428.7 258.96L430.7 259.64L432.7 260.46L434.7 261.4L436.7 262.43L438.7 263.53L440.7 264.68L442.7 265.86L444.7 267.07L446.7 268.29L448.7 269.53L450.7 270.79L452.7 272.04L454.7 273.31L456.7 274.58L458.7 275.86L460.7 277.14L462.7 278.42L464.7 279.7L466.7 280.99L468.7 282.27L470.7 283.56L472.7 284.85L474.7 286.15L476.7 287.44L478.7 288.73L480.7 290.03L482.7 291.32L484.7 292.62L486.7 293.91L488.7 295.21L490.7 296.51L492.7 297.8L494.7 299.1L496.7 300.4L498.7 301.7L500.7 303L502.7 304.3L504.7 305.6L506.7 306.9L508.7 308.2L510.7 309.5L512.7 310.8L514.7 312.1L516.7 313.4L518.3 314.3" fill="none" stroke="#3a3acc" stroke-width="1.25" stroke-linejoin="round"/>
<path d="M312.7 296C320.42 296.23 345.7 296.8 359 297.4C372.3 298 379.92 298.65 392.5 299.6C405.08 300.55 422.5 301.93 434.5 303.1C446.5 304.27 450.53 304.73 464.5 306.6C478.47 308.47 509.33 313.02 518.3 314.3" fill="none" stroke="#3a3acc" stroke-width="1.25" stroke-linejoin="round"/>
<path d="M409 244.5L518.3 314.3" fill="none" stroke="#cc55cc" stroke-width="1.15" stroke-linejoin="round" stroke-dasharray="4.4 3.8"/>
<path d="M371.5 292L518.3 314.6" fill="none" stroke="#cc55cc" stroke-width="1.15" stroke-linejoin="round" stroke-dasharray="4.4 3.8"/>
<path d="M313.1 250.2L315.6 252.7L313.1 255.2L310.6 252.7Z" fill="#f02c30"/>
<path d="M361.1 251.7L363.6 254.2L361.1 256.7L358.6 254.2Z" fill="#f02c30"/>
<path d="M384 252.8L386.5 255.3L384 257.8L381.5 255.3Z" fill="#f02c30"/>
<path d="M407.3 255.5L409.8 258L407.3 260.5L404.8 258Z" fill="#f02c30"/>
<path d="M430 260.1L432.5 262.6L430 265.1L427.5 262.6Z" fill="#f02c30"/>
<path d="M453.6 266.1L456.1 268.6L453.6 271.1L451.1 268.6Z" fill="#f02c30"/>
<path d="M476.3 279.4L478.8 281.9L476.3 284.4L473.8 281.9Z" fill="#f02c30"/>
<path d="M499.2 297.2L501.7 299.7L499.2 302.2L496.7 299.7Z" fill="#f02c30"/>
<path d="M518.6 311.8L521.1 314.3L518.6 316.8L516.1 314.3Z" fill="#f02c30"/>
<path d="M360.2 294.5L362.7 297L360.2 299.5L357.7 297Z" fill="#f02c30"/>
<path d="M384.9 295.9L387.4 298.4L384.9 300.9L382.4 298.4Z" fill="#f02c30"/>
<path d="M407.2 297.1L409.7 299.6L407.2 302.1L404.7 299.6Z" fill="#f02c30"/>
<path d="M430 299.7L432.5 302.2L430 304.7L427.5 302.2Z" fill="#f02c30"/>
<path d="M453.7 302.5L456.2 305L453.7 307.5L451.2 305Z" fill="#f02c30"/>
<path d="M476 306L478.5 308.5L476 311L473.5 308.5Z" fill="#f02c30"/>
<path d="M500.1 310.1L502.6 312.6L500.1 315.1L497.6 312.6Z" fill="#f02c30"/>
</g>
<path d="M335.7 356.4v-1.6M335.7 202.7v1.6M349.15 356.4v-1.6M349.15 202.7v1.6M358.7 356.4v-1.6M358.7 202.7v1.6M366.1 356.4v-1.6M366.1 202.7v1.6M372.15 356.4v-1.6M372.15 202.7v1.6M377.27 356.4v-1.6M377.27 202.7v1.6M381.7 356.4v-1.6M381.7 202.7v1.6M385.6 356.4v-1.6M385.6 202.7v1.6M389.1 356.4v-3.4M389.1 202.7v3.4M412.1 356.4v-1.6M412.1 202.7v1.6M425.55 356.4v-1.6M425.55 202.7v1.6M435.1 356.4v-1.6M435.1 202.7v1.6M442.5 356.4v-1.6M442.5 202.7v1.6M448.55 356.4v-1.6M448.55 202.7v1.6M453.67 356.4v-1.6M453.67 202.7v1.6M458.1 356.4v-1.6M458.1 202.7v1.6M462 356.4v-1.6M462 202.7v1.6M465.5 356.4v-3.4M465.5 202.7v3.4M488.5 356.4v-1.6M488.5 202.7v1.6M501.95 356.4v-1.6M501.95 202.7v1.6M511.5 356.4v-1.6M511.5 202.7v1.6M518.9 356.4v-1.6M518.9 202.7v1.6M524.95 356.4v-1.6M524.95 202.7v1.6M530.07 356.4v-1.6M530.07 202.7v1.6M534.5 356.4v-1.6M534.5 202.7v1.6M538.4 356.4v-1.6M538.4 202.7v1.6M312.7 348.71h1.6M541.9 348.71h-1.6M312.7 341.03h3.4M541.9 341.03h-3.4M312.7 333.34h1.6M541.9 333.34h-1.6M312.7 325.66h3.4M541.9 325.66h-3.4M312.7 317.97h1.6M541.9 317.97h-1.6M312.7 310.29h3.4M541.9 310.29h-3.4M312.7 302.6h1.6M541.9 302.6h-1.6M312.7 294.92h3.4M541.9 294.92h-3.4M312.7 287.24h1.6M541.9 287.24h-1.6M312.7 279.55h3.4M541.9 279.55h-3.4M312.7 271.87h1.6M541.9 271.87h-1.6M312.7 264.18h3.4M541.9 264.18h-3.4M312.7 256.5h1.6M541.9 256.5h-1.6M312.7 248.81h3.4M541.9 248.81h-3.4M312.7 241.12h1.6M541.9 241.12h-1.6M312.7 233.44h3.4M541.9 233.44h-3.4M312.7 225.75h1.6M541.9 225.75h-1.6M312.7 218.07h3.4M541.9 218.07h-3.4M312.7 210.38h1.6M541.9 210.38h-1.6" stroke="#464646" stroke-width="0.9" fill="none"/>
<rect x="312.7" y="202.7" width="229.2" height="153.7" fill="none" stroke="#464646" stroke-width="1.2"/>
<text x="310.2" y="359.7" text-anchor="end" font-family="DejaVu Serif, serif" font-size="6.8" fill="#787878" stroke="#787878" stroke-width="0.22" letter-spacing="0.35">0.0</text>
<text x="310.2" y="344.33" text-anchor="end" font-family="DejaVu Serif, serif" font-size="6.8" fill="#787878" stroke="#787878" stroke-width="0.22" letter-spacing="0.35">0.1</text>
<text x="310.2" y="328.96" text-anchor="end" font-family="DejaVu Serif, serif" font-size="6.8" fill="#787878" stroke="#787878" stroke-width="0.22" letter-spacing="0.35">0.2</text>
<text x="310.2" y="313.59" text-anchor="end" font-family="DejaVu Serif, serif" font-size="6.8" fill="#787878" stroke="#787878" stroke-width="0.22" letter-spacing="0.35">0.3</text>
<text x="310.2" y="298.22" text-anchor="end" font-family="DejaVu Serif, serif" font-size="6.8" fill="#787878" stroke="#787878" stroke-width="0.22" letter-spacing="0.35">0.4</text>
<text x="310.2" y="282.85" text-anchor="end" font-family="DejaVu Serif, serif" font-size="6.8" fill="#787878" stroke="#787878" stroke-width="0.22" letter-spacing="0.35">0.5</text>
<text x="310.2" y="267.48" text-anchor="end" font-family="DejaVu Serif, serif" font-size="6.8" fill="#787878" stroke="#787878" stroke-width="0.22" letter-spacing="0.35">0.6</text>
<text x="310.2" y="252.11" text-anchor="end" font-family="DejaVu Serif, serif" font-size="6.8" fill="#787878" stroke="#787878" stroke-width="0.22" letter-spacing="0.35">0.7</text>
<text x="310.2" y="236.74" text-anchor="end" font-family="DejaVu Serif, serif" font-size="6.8" fill="#787878" stroke="#787878" stroke-width="0.22" letter-spacing="0.35">0.8</text>
<text x="310.2" y="221.37" text-anchor="end" font-family="DejaVu Serif, serif" font-size="6.8" fill="#787878" stroke="#787878" stroke-width="0.22" letter-spacing="0.35">0.9</text>
<text x="310.2" y="206" text-anchor="end" font-family="DejaVu Serif, serif" font-size="6.8" fill="#787878" stroke="#787878" stroke-width="0.22" letter-spacing="0.35">1.0</text>
<text x="313.2" y="366.4" text-anchor="middle" font-family="DejaVu Serif, serif" font-size="6.8" fill="#787878" stroke="#787878" stroke-width="0.22" letter-spacing="0.35">0.1</text>
<text x="389.7" y="366" text-anchor="middle" font-size="7" fill="#787878" stroke="#787878" stroke-width="0.22">1</text>
<text x="466.1" y="366" text-anchor="middle" font-size="7" fill="#787878" stroke="#787878" stroke-width="0.22">10</text>
<text x="542.5" y="366" text-anchor="middle" font-size="7" fill="#787878" stroke="#787878" stroke-width="0.22">100</text>
<path d="M366.9 291.4H407.2M393.2 291.4V295" stroke="#cc55cc" stroke-width="1" fill="none"/>
<text transform="translate(409,296.9) scale(1,0.9)" font-size="8.6" fill="#cc55cc" class="mg" letter-spacing="0.1"><tspan font-style="italic">κ</tspan> <tspan font-family="DejaVu Serif, serif" font-size="7.74" stroke="none" fill-opacity="0.75">=</tspan> 0.024</text>
<path d="M422.9 253.4H460.1M442.7 253.4V264.6" stroke="#cc55cc" stroke-width="1" fill="none"/>
<text transform="translate(449.8,263.1) scale(1,0.9)" font-size="8.6" fill="#cc55cc" class="mg" letter-spacing="0.18" xml:space="preserve"><tspan font-style="italic">λ</tspan><tspan font-size="6.0" dy="1.8">0</tspan><tspan dy="-1.8"> </tspan><tspan font-family="DejaVu Serif, serif" font-size="7.74" stroke="none" fill-opacity="0.75">=</tspan> 0.12</text>
<line x1="422.6" y1="220.3" x2="440.2" y2="220.3" stroke="#3a3acc" stroke-width="1.4"/>
<path d="M431.5 229.1L434 231.6L431.5 234.1L429 231.6Z" fill="#f02c30"/>
<text x="445.1" y="223.5" font-size="8.5" fill="#1c1c1c" class="lb">The calculation results</text>
<text x="445.1" y="234.4" font-size="8.5" fill="#1c1c1c" class="lb">The experimental results</text>
<text x="329.3" y="332.6" font-size="8.1" fill="#1c1c1c" class="lb">SO-04</text>
<text x="391.2" y="375" font-size="8.9" fill="#1c1c1c" class="lb">Vertical stress(MPa)</text>
<text transform="translate(296.2,293.6) rotate(-90)" font-size="8.8" fill="#1c1c1c" class="lb">Void ratio(-)</text>
<text x="417.6" y="391.3" text-anchor="middle" font-size="13" fill="#111">(<tspan font-weight="bold">d</tspan>)</text>
</svg>
</body></html>
